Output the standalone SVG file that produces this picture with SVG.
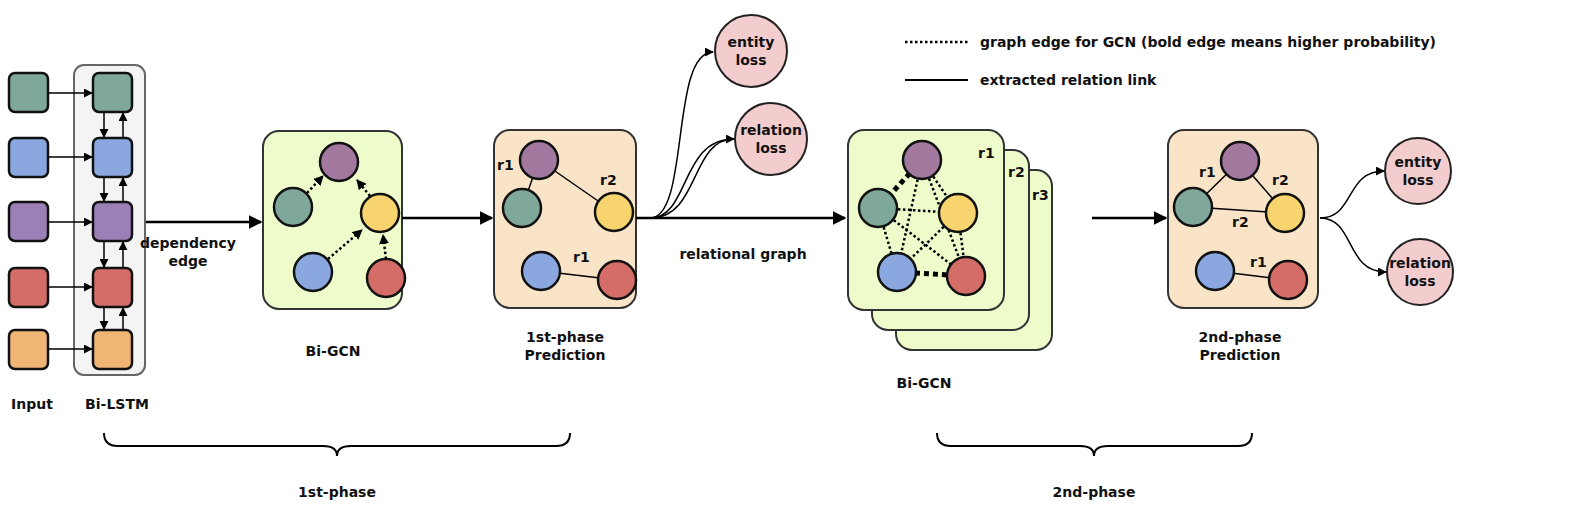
<svg xmlns="http://www.w3.org/2000/svg" width="1578" height="516" viewBox="0 0 1578 516">
<defs>
<marker id="a" viewBox="0 0 10 10" refX="9" refY="5" markerWidth="5.5" markerHeight="5.5" orient="auto"><path d="M0,0L10,5L0,10z" fill="#000"/></marker>
<marker id="b" viewBox="0 0 10 10" refX="9" refY="5" markerWidth="6" markerHeight="6" orient="auto"><path d="M0,0L10,5L0,10z" fill="#000"/></marker>
<marker id="d" viewBox="0 0 10 10" refX="9" refY="5" markerWidth="4" markerHeight="4" orient="auto"><path d="M0,0L10,5L0,10z" fill="#000"/></marker>
</defs>
<style>
text{font-family:"DejaVu Sans",Verdana,sans-serif;font-weight:bold;font-size:14px;fill:#111}
.sq{stroke:#111;stroke-width:2.5}
.c{stroke:#111;stroke-width:2.5}
.box{stroke:#333;stroke-width:2}
.l{stroke:#000;stroke-width:1.5;fill:none}
.m{stroke:#000;stroke-width:2.5;fill:none}
.dt{stroke:#000;stroke-width:2.5;stroke-dasharray:2.5 2.5;fill:none}
.bd{stroke:#000;stroke-width:5;stroke-dasharray:5 4;fill:none}
.T{fill:#7fa89a}.B{fill:#8aa7e0}.P{fill:#9b80b8}.Pc{fill:#a3789f}.R{fill:#d46c68}.O{fill:#efb575}.Y{fill:#f7d46e}
.loss{fill:#f3cdcd;stroke:#222;stroke-width:2}
</style>
<g id="legend">
<line x1="905" y1="42" x2="968" y2="42" class="dt" stroke-width="2"/>
<text x="980" y="47" font-size="15">graph edge for GCN (bold edge means higher probability)</text>
<line x1="905" y1="80" x2="968" y2="80" stroke="#000" stroke-width="2"/>
<text x="980" y="85" font-size="15">extracted relation link</text>
</g>
<g id="input">
<rect x="9" y="73" width="39" height="39" rx="6" class="sq T"/>
<rect x="9" y="138" width="39" height="39" rx="6" class="sq B"/>
<rect x="9" y="202" width="39" height="39" rx="6" class="sq P"/>
<rect x="9" y="268" width="39" height="39" rx="6" class="sq R"/>
<rect x="9" y="330" width="39" height="39" rx="6" class="sq O"/>
<text x="32" y="409" text-anchor="middle" font-size="16">Input</text>
</g>
<g id="bilstm">
<rect x="74" y="65" width="71" height="310" rx="10" fill="#f4f4f4" stroke="#666" stroke-width="2"/>
<rect x="93" y="73" width="39" height="39" rx="6" class="sq T"/>
<rect x="93" y="138" width="39" height="39" rx="6" class="sq B"/>
<rect x="93" y="202" width="39" height="39" rx="6" class="sq P"/>
<rect x="93" y="268" width="39" height="39" rx="6" class="sq R"/>
<rect x="93" y="330" width="39" height="39" rx="6" class="sq O"/>
<text x="117" y="409" text-anchor="middle" font-size="16">Bi-LSTM</text>
</g>
<g id="bigcn1">
<rect x="263" y="131" width="139" height="178" rx="16" fill="#eefccc" class="box"/>
<circle cx="339" cy="162" r="19" class="c Pc"/>
<circle cx="293" cy="207" r="19" class="c T"/>
<circle cx="380" cy="213" r="19" class="c Y"/>
<circle cx="313" cy="272" r="19" class="c B"/>
<circle cx="386" cy="278" r="19" class="c R"/>
<line x1="307" y1="193" x2="323" y2="176" class="dt" marker-end="url(#d)"/>
<line x1="370" y1="196" x2="357" y2="180" class="dt" marker-end="url(#d)"/>
<line x1="328" y1="259" x2="362" y2="230" class="dt" marker-end="url(#d)"/>
<line x1="386" y1="259" x2="383" y2="235" class="dt" marker-end="url(#d)"/>
<text x="333" y="356" text-anchor="middle" font-size="16">Bi-GCN</text>
</g>
<g id="pred1">
<rect x="494" y="130" width="142" height="178" rx="16" fill="#f9e4c8" class="box"/>
<line x1="539" y1="160" x2="522" y2="208" stroke="#000" stroke-width="1.5"/>
<line x1="539" y1="160" x2="614" y2="212" stroke="#000" stroke-width="1.5"/>
<line x1="541" y1="271" x2="617" y2="280" stroke="#000" stroke-width="1.5"/>
<circle cx="539" cy="160" r="19" class="c Pc"/>
<circle cx="522" cy="208" r="19" class="c T"/>
<circle cx="614" cy="212" r="19" class="c Y"/>
<circle cx="541" cy="271" r="19" class="c B"/>
<circle cx="617" cy="280" r="19" class="c R"/>
<text x="497" y="170" font-size="13">r1</text>
<text x="600" y="185" font-size="13">r2</text>
<text x="573" y="262" font-size="13">r1</text>
<text x="565" y="342" text-anchor="middle" font-size="16">1st-phase</text>
<text x="565" y="360" text-anchor="middle" font-size="16">Prediction</text>
</g>
<g id="loss1">
<circle cx="751" cy="51" r="36" class="loss"/>
<text x="751" y="47" text-anchor="middle">entity</text>
<text x="751" y="65" text-anchor="middle">loss</text>
<circle cx="771" cy="139" r="36" class="loss"/>
<text x="771" y="135" text-anchor="middle" font-size="13">relation</text>
<text x="771" y="153" text-anchor="middle">loss</text>
</g>
<g id="bigcn2">
<rect x="896" y="170" width="156" height="180" rx="16" fill="#eefccc" class="box"/>
<rect x="872" y="150" width="157" height="180" rx="16" fill="#eefccc" class="box"/>
<rect x="848" y="130" width="156" height="180" rx="16" fill="#eefccc" class="box"/>
<text x="1032" y="200" font-size="14">r3</text>
<text x="1008" y="177" font-size="14">r2</text>
<text x="978" y="158" font-size="14">r1</text>
<line x1="922" y1="160" x2="897" y2="272" class="dt"/>
<line x1="922" y1="160" x2="958" y2="213" class="dt"/>
<line x1="922" y1="160" x2="966" y2="276" class="dt"/>
<line x1="878" y1="208" x2="958" y2="213" class="dt"/>
<line x1="878" y1="208" x2="897" y2="272" class="dt"/>
<line x1="878" y1="208" x2="966" y2="276" class="dt"/>
<line x1="958" y1="213" x2="897" y2="272" class="dt"/>
<line x1="958" y1="213" x2="966" y2="276" class="dt"/>
<line x1="922" y1="160" x2="878" y2="208" class="bd"/>
<line x1="897" y1="272" x2="966" y2="276" class="bd"/>
<circle cx="922" cy="160" r="19" class="c Pc"/>
<circle cx="878" cy="208" r="19" class="c T"/>
<circle cx="958" cy="213" r="19" class="c Y"/>
<circle cx="897" cy="272" r="19" class="c B"/>
<circle cx="966" cy="276" r="19" class="c R"/>
<text x="924" y="388" text-anchor="middle" font-size="16">Bi-GCN</text>
</g>
<g id="pred2">
<rect x="1168" y="130" width="150" height="178" rx="16" fill="#f9e4c8" class="box"/>
<line x1="1240" y1="161" x2="1193" y2="207" stroke="#000" stroke-width="1.5"/>
<line x1="1240" y1="161" x2="1285" y2="213" stroke="#000" stroke-width="1.5"/>
<line x1="1193" y1="207" x2="1285" y2="213" stroke="#000" stroke-width="1.5"/>
<line x1="1215" y1="271" x2="1288" y2="280" stroke="#000" stroke-width="1.5"/>
<circle cx="1240" cy="161" r="19" class="c Pc"/>
<circle cx="1193" cy="207" r="19" class="c T"/>
<circle cx="1285" cy="213" r="19" class="c Y"/>
<circle cx="1215" cy="271" r="19" class="c B"/>
<circle cx="1288" cy="280" r="19" class="c R"/>
<text x="1199" y="177" font-size="13">r1</text>
<text x="1272" y="185" font-size="13">r2</text>
<text x="1232" y="227" font-size="13">r2</text>
<text x="1250" y="267" font-size="13">r1</text>
<text x="1240" y="342" text-anchor="middle" font-size="16">2nd-phase</text>
<text x="1240" y="360" text-anchor="middle" font-size="16">Prediction</text>
</g>
<g id="loss2">
<circle cx="1418" cy="171" r="33" class="loss"/>
<text x="1418" y="167" text-anchor="middle">entity</text>
<text x="1418" y="185" text-anchor="middle">loss</text>
<circle cx="1420" cy="272" r="33" class="loss"/>
<text x="1420" y="268" text-anchor="middle" font-size="13">relation</text>
<text x="1420" y="286" text-anchor="middle">loss</text>
</g>
<g id="connectors">
<line x1="48" y1="93" x2="92" y2="93" class="l" marker-end="url(#b)"/>
<line x1="48" y1="157" x2="92" y2="157" class="l" marker-end="url(#b)"/>
<line x1="48" y1="222" x2="92" y2="222" class="l" marker-end="url(#b)"/>
<line x1="48" y1="287" x2="92" y2="287" class="l" marker-end="url(#b)"/>
<line x1="48" y1="349" x2="92" y2="349" class="l" marker-end="url(#b)"/>
<line x1="104" y1="112" x2="104" y2="137" class="l" marker-end="url(#b)"/>
<line x1="104" y1="177" x2="104" y2="201" class="l" marker-end="url(#b)"/>
<line x1="104" y1="241" x2="104" y2="267" class="l" marker-end="url(#b)"/>
<line x1="104" y1="307" x2="104" y2="329" class="l" marker-end="url(#b)"/>
<line x1="123" y1="138" x2="123" y2="113" class="l" marker-end="url(#b)"/>
<line x1="123" y1="202" x2="123" y2="178" class="l" marker-end="url(#b)"/>
<line x1="123" y1="268" x2="123" y2="242" class="l" marker-end="url(#b)"/>
<line x1="123" y1="330" x2="123" y2="308" class="l" marker-end="url(#b)"/>
<line x1="146" y1="222" x2="261" y2="222" class="m" marker-end="url(#a)"/>
<text x="188" y="248" text-anchor="middle" font-size="12">dependency</text>
<text x="188" y="266" text-anchor="middle" font-size="12">edge</text>
<line x1="402" y1="218" x2="492" y2="218" class="m" marker-end="url(#a)"/>
<line x1="636" y1="218" x2="845" y2="218" class="m" marker-end="url(#a)"/>
<text x="743" y="259" text-anchor="middle" font-size="14">relational graph</text>
<path d="M650,218 C690,218 670,52 713,52" class="l" marker-end="url(#b)"/>
<path d="M650,218 C700,218 690,139 734,139" class="l" marker-end="url(#b)"/>
<path d="M650,218 C690,218 680,139 734,139" class="l"/>
<line x1="1092" y1="218" x2="1166" y2="218" class="m" marker-end="url(#a)"/>
<path d="M1320,218 C1355,218 1345,171 1384,171" class="l" marker-end="url(#b)"/>
<path d="M1320,218 C1355,218 1345,272 1386,272" class="l" marker-end="url(#b)"/>
</g>
<g id="braces">
<path d="M104,433 Q104,446 118,446 L323,446 Q337,446 337,456 Q337,446 351,446 L556,446 Q570,446 570,433" fill="none" stroke="#000" stroke-width="2"/>
<text x="337" y="497" text-anchor="middle" font-size="18">1st-phase</text>
<path d="M937,433 Q937,446 951,446 L1080,446 Q1094,446 1094,456 Q1094,446 1108,446 L1238,446 Q1252,446 1252,433" fill="none" stroke="#000" stroke-width="2"/>
<text x="1094" y="497" text-anchor="middle" font-size="18">2nd-phase</text>
</g>
</svg>
